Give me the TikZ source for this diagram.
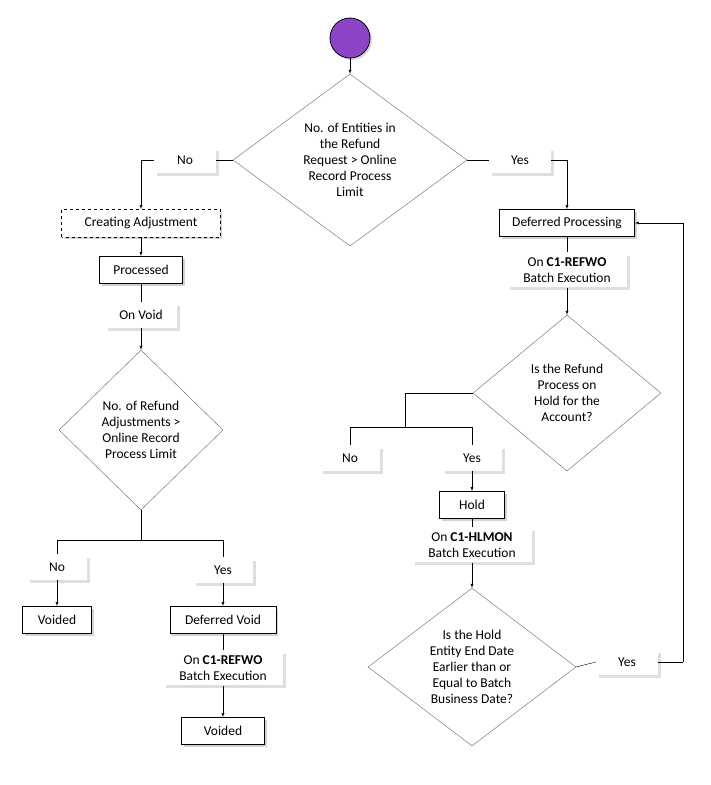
\documentclass[tikz,border=0pt]{standalone}
\usepackage{fontspec}
\setmainfont{Carlito}
\usetikzlibrary{shapes.geometric,shadows}

\definecolor{startfill}{RGB}{142,68,200}
\tikzset{
  state/.style={draw,thick,fill=white,inner sep=4pt,minimum height=27pt,
    drop shadow={opacity=.35,shadow xshift=2pt,shadow yshift=-2pt}},
  tag/.style={fill=white,align=center,inner sep=5pt,minimum height=25pt,
    drop shadow={opacity=.25,shadow xshift=3pt,shadow yshift=-3pt}},
  test/.style={draw=gray!80!black,diamond,fill=white,align=center,inner sep=0pt},
  go/.style={-latex}
}

\begin{document}
\begin{tikzpicture}[x=1pt,y=-1pt,font=\fontsize{13.5}{16}\selectfont]
  \useasboundingbox (0,0) rectangle (710,785);
  \node[circle,draw,thick,fill=startfill,minimum size=40pt,
    drop shadow={opacity=.3,shadow xshift=2pt,shadow yshift=-2pt}] (start) at (350,38) {};
  \node[test,minimum width=234pt,minimum height=172pt] (entities) at (350,160)
    {No. of Entities in\\the Refund\\Request > Online\\Record Process\\Limit};

  % left branch
  \node[tag,minimum width=62pt] (no1) at (185,160) {No};
  \node[state,draw=none,minimum width=158pt] (creating) at (141,223) {Creating Adjustment};
  \draw[thick,dashed] (creating.south west) rectangle (creating.north east);
  \node[state,minimum width=83pt] (processed) at (141,270) {Processed};
  \node[tag,minimum width=72pt] (onvoid) at (141,315) {On Void};
  \node[test,minimum width=164pt,minimum height=160pt] (refadj) at (141,430)
    {No. of Refund\\Adjustments >\\Online Record\\Process Limit};
  \coordinate (split1) at (141,540);
  \node[tag,minimum width=60pt] (no2) at (57,567) {No};
  \node[tag,minimum width=60pt] (yes2) at (223,570) {Yes};
  \node[state,minimum width=69pt] (voided1) at (57,620) {Voided};
  \node[state,minimum width=106pt] (defvoid) at (223,620) {Deferred Void};
  \node[tag,minimum width=120pt] (batch1) at (223,668) {On \textbf{C1-REFWO}\\Batch Execution};
  \node[state,minimum width=83pt] (voided2) at (223,731) {Voided};

  % right branch
  \node[tag,minimum width=62pt] (yes1) at (520,160) {Yes};
  \node[state,minimum width=135pt] (deferred) at (567,223) {Deferred Processing};
  \node[tag,minimum width=120pt] (batch2) at (567,270) {On \textbf{C1-REFWO}\\Batch Execution};
  \node[test,minimum width=188pt,minimum height=156pt] (onhold) at (567,393)
    {Is the Refund\\Process on\\Hold for the\\Account?};
  \coordinate (split2) at (405,427);
  \node[tag,minimum width=60pt] (no3) at (350,458) {No};
  \node[tag,minimum width=60pt] (yes3) at (472,458) {Yes};
  \node[state,minimum width=65pt] (hold) at (472,505) {Hold};
  \node[tag,minimum width=120pt] (batch3) at (472,545) {On \textbf{C1-HLMON}\\Batch Execution};
  \node[test,minimum width=208pt,minimum height=157pt] (enddate) at (472,667)
    {Is the Hold\\Entity End Date\\Earlier than or\\Equal to Batch\\Business Date?};
  \node[tag,minimum width=62pt] (yes4) at (627,662) {Yes};
  \coordinate (back) at (683,662);

  \draw[go] (start) -- (entities);
  \draw (entities.west) -- (no1.east);
  \draw[go] (no1.west) -| (creating.north);
  \draw[go] (creating) -- (processed);
  \draw (processed) -- (onvoid);
  \draw[go] (onvoid) -- (refadj);
  \draw (refadj.south) -- (split1);
  \draw (split1) -| (no2.north);
  \draw (split1) -| (yes2.north);
  \draw[go] (no2) -- (voided1);
  \draw[go] (yes2) -- (defvoid);
  \draw (defvoid) -- (batch1);
  \draw[go] (batch1) -- (voided2);
  \draw (entities.east) -- (yes1.west);
  \draw[go] (yes1.east) -| (deferred.north);
  \draw (deferred) -- (batch2);
  \draw[go] (batch2) -- (onhold);
  \draw (onhold.west) -| (split2);
  \draw (split2) -| (no3.north);
  \draw (split2) -| (yes3.north);
  \draw[go] (yes3) -- (hold);
  \draw (hold) -- (batch3);
  \draw[go] (batch3) -- (enddate);
  \draw (enddate.east) -- (yes4.west);
  \draw (yes4.east) -- (back);
  \draw[go] (back) |- (deferred.east);
\end{tikzpicture}
\end{document}
